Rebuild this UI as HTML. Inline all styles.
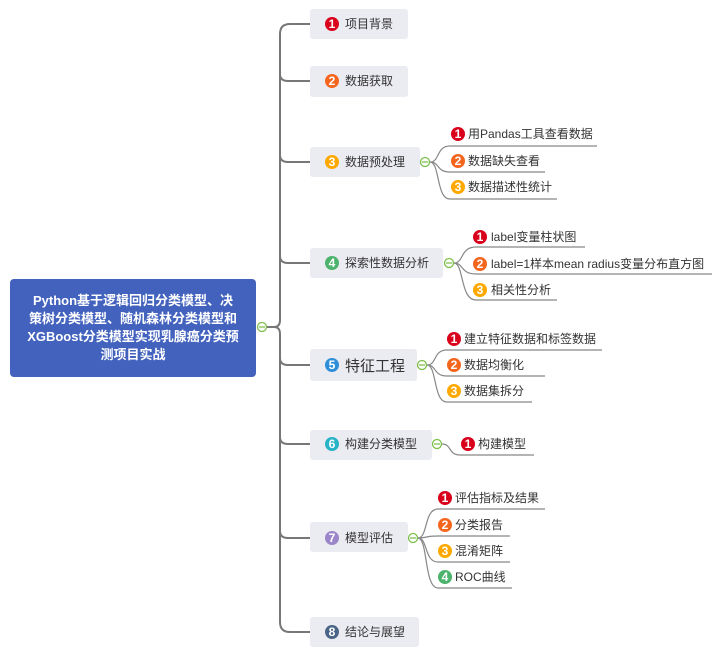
<!DOCTYPE html>
<html><head><meta charset="utf-8"><style>
body{margin:0;background:#fff;width:720px;height:655px;overflow:hidden}
text{font-family:"Liberation Sans","Noto Sans CJK SC",sans-serif;fill:#333}
.n{font-size:12px;fill:#fff;text-anchor:middle;font-weight:bold}
</style></head><body>
<svg width="720" height="655" viewBox="0 0 720 655" xmlns="http://www.w3.org/2000/svg">
<g fill="none" stroke="#777" stroke-width="2">
<path d="M262,327 H274 Q280,327 280,320 V34 Q280,24 290,24 H310"/>
<path d="M274,327 Q280,327 280,334 V622 Q280,632 290,632 H310"/>
<path d="M280,74 Q280,81 288,81 H310"/>
<path d="M280,155 Q280,162 288,162 H310"/>
<path d="M280,256 Q280,263 288,263 H310"/>
<path d="M280,358 Q280,365 288,365 H310"/>
<path d="M280,437 Q280,444 288,444 H310"/>
<path d="M280,531 Q280,538 288,538 H310"/>
</g>
<g fill="none" stroke="#888" stroke-width="1.2">
<path d="M430,162 C440,162 436,146 450,146 H597"/>
<path d="M430,162 C440,162 436,172 450,172 H545"/>
<path d="M430,162 C440,162 436,199 450,199 H557"/>
<path d="M454,263 C464,263 460,247 476,247 H585"/>
<path d="M454,263 C464,263 460,274 476,274 H712"/>
<path d="M454,263 C464,263 460,300 476,300 H557"/>
<path d="M427,365 C437,365 433,350 447,350 H602"/>
<path d="M427,365 C437,365 433,376 447,376 H545"/>
<path d="M427,365 C437,365 433,402 447,402 H532"/>
<path d="M442,444 C452,444 448,455 460,455 H534"/>
<path d="M418,538 C428,538 424,509 438,509 H545"/>
<path d="M418,538 C428,538 424,536 438,536 H510"/>
<path d="M418,538 C428,538 424,562 438,562 H510"/>
<path d="M418,538 C428,538 424,588 438,588 H512"/>
</g>
<rect x="10" y="279" width="246" height="98" rx="4" fill="#4262be"/>
<g style="font-size:13px;font-weight:bold;text-anchor:middle">
<text x="133" y="305" style="fill:#fff">Python基于逻辑回归分类模型、决</text>
<text x="133" y="323" style="fill:#fff">策树分类模型、随机森林分类模型和</text>
<text x="133" y="341" style="fill:#fff">XGBoost分类模型实现乳腺癌分类预</text>
<text x="133" y="359" style="fill:#fff">测项目实战</text>
</g>
<g fill="#ebebf2">
<rect x="310" y="9" width="98" height="30" rx="3"/>
<rect x="310" y="66" width="98" height="31" rx="3"/>
<rect x="310" y="147" width="110" height="30" rx="3"/>
<rect x="310" y="248" width="133" height="30" rx="3"/>
<rect x="310" y="349" width="107" height="32" rx="3"/>
<rect x="310" y="430" width="122" height="30" rx="3"/>
<rect x="310" y="522" width="98" height="30" rx="3"/>
<rect x="310" y="617" width="109" height="30" rx="3"/>
</g>
<g fill="#fff" stroke="#7cbf4a" stroke-width="1.3">
<circle cx="262" cy="327" r="4.5"/><circle cx="425" cy="162" r="4.5"/><circle cx="449" cy="263" r="4.5"/>
<circle cx="422" cy="365" r="4.5"/><circle cx="437" cy="444" r="4.5"/><circle cx="413" cy="538" r="4.5"/>
</g>
<g stroke="#7cbf4a" stroke-width="1.3">
<path d="M259,327h6M422,162h6M446,263h6M419,365h6M434,444h6M410,538h6"/>
</g>
<!-- level1 -->
<g font-size="12">
<circle cx="332" cy="24" r="7" fill="#d9001b"/><text class="n" x="332" y="28">1</text><text x="345" y="28" style="font-size:12px">项目背景</text>
<circle cx="332" cy="81" r="7" fill="#f4661e"/><text class="n" x="332" y="85">2</text><text x="345" y="85" style="font-size:12px">数据获取</text>
<circle cx="332" cy="162" r="7" fill="#ffa800"/><text class="n" x="332" y="166">3</text><text x="345" y="166" style="font-size:12px">数据预处理</text>
<circle cx="332" cy="263" r="7" fill="#4bb36b"/><text class="n" x="332" y="267">4</text><text x="345" y="267" style="font-size:12px">探索性数据分析</text>
<circle cx="332" cy="365" r="7" fill="#2e8ed8"/><text class="n" x="332" y="369">5</text><text x="345" y="371" style="font-size:15px">特征工程</text>
<circle cx="332" cy="444" r="7" fill="#28b3c6"/><text class="n" x="332" y="448">6</text><text x="345" y="448" style="font-size:12px">构建分类模型</text>
<circle cx="332" cy="538" r="7" fill="#9b86c9"/><text class="n" x="332" y="542">7</text><text x="345" y="542" style="font-size:12px">模型评估</text>
<circle cx="332" cy="632" r="7" fill="#4a6585"/><text class="n" x="332" y="636">8</text><text x="345" y="636" style="font-size:12px">结论与展望</text>
</g>
<!-- children -->
<g style="font-size:12px">
<circle cx="458" cy="134" r="7" fill="#d9001b"/><text class="n" x="458" y="138">1</text><text x="468" y="138">用Pandas工具查看数据</text>
<circle cx="458" cy="161" r="7" fill="#f4661e"/><text class="n" x="458" y="165">2</text><text x="468" y="165">数据缺失查看</text>
<circle cx="458" cy="187" r="7" fill="#ffa800"/><text class="n" x="458" y="191">3</text><text x="468" y="191">数据描述性统计</text>
<circle cx="480" cy="237" r="7" fill="#d9001b"/><text class="n" x="480" y="241">1</text><text x="491" y="241">label变量柱状图</text>
<circle cx="480" cy="264" r="7" fill="#f4661e"/><text class="n" x="480" y="268">2</text><text x="491" y="268">label=1样本mean radius变量分布直方图</text>
<circle cx="480" cy="290" r="7" fill="#ffa800"/><text class="n" x="480" y="294">3</text><text x="491" y="294">相关性分析</text>
<circle cx="454" cy="339" r="7" fill="#d9001b"/><text class="n" x="454" y="343">1</text><text x="464" y="343">建立特征数据和标签数据</text>
<circle cx="454" cy="365" r="7" fill="#f4661e"/><text class="n" x="454" y="369">2</text><text x="464" y="369">数据均衡化</text>
<circle cx="454" cy="391" r="7" fill="#ffa800"/><text class="n" x="454" y="395">3</text><text x="464" y="395">数据集拆分</text>
<circle cx="468" cy="444" r="7" fill="#d9001b"/><text class="n" x="468" y="448">1</text><text x="478" y="448">构建模型</text>
<circle cx="445" cy="498" r="7" fill="#d9001b"/><text class="n" x="445" y="502">1</text><text x="455" y="502">评估指标及结果</text>
<circle cx="445" cy="525" r="7" fill="#f4661e"/><text class="n" x="445" y="529">2</text><text x="455" y="529">分类报告</text>
<circle cx="445" cy="551" r="7" fill="#ffa800"/><text class="n" x="445" y="555">3</text><text x="455" y="555">混淆矩阵</text>
<circle cx="445" cy="577" r="7" fill="#4bb36b"/><text class="n" x="445" y="581">4</text><text x="455" y="581">ROC曲线</text>
</g>
</svg>
</body></html>
